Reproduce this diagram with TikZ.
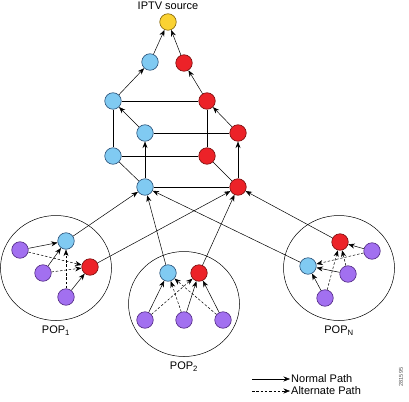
\documentclass[tikz,border=0pt]{standalone}
\usepackage{fontspec}
\setmainfont{Liberation Sans}
\usepackage{xcolor}
\usetikzlibrary{arrows.meta, positioning, shapes.geometric}

\definecolor{skyfill}{RGB}{128,202,242}
\definecolor{skyline}{RGB}{40,80,120}
\definecolor{redfill}{RGB}{236,34,40}
\definecolor{redline}{RGB}{120,10,10}
\definecolor{goldfill}{RGB}{250,210,50}
\definecolor{goldline}{RGB}{130,100,10}
\definecolor{violetfill}{RGB}{162,112,240}
\definecolor{violetline}{RGB}{80,40,130}

\begin{document}
\begin{tikzpicture}[x=1pt, y=-1pt,
        font=\fontsize{11}{13}\selectfont,
        router/.style={circle, draw, minimum size=16.5pt, inner sep=0pt, line width=0.6pt},
        srcnode/.style={router, fill=goldfill, draw=goldline},
        bluenode/.style={router, fill=skyfill, draw=skyline},
        rednode/.style={router, fill=redfill, draw=redline},
        hostnode/.style={router, fill=violetfill, draw=violetline},
        pop/.style={ellipse, draw, minimum width=111pt, minimum height=105pt, line width=0.5pt},
        link/.style={line width=0.5pt},
        normal/.style={link, -{Stealth[length=6.5pt, width=5pt]}},
        alternate/.style={normal, dash pattern=on 2.5pt off 1.8pt}]
        \useasboundingbox (0,0) rectangle (409,401);

        % Add the POP areas
        \node[pop] (pop1) at (56,268) {};
        \node[pop] (pop2) at (184,304) {};
        \node[pop] (popN) at (339,268) {};
        \node[below=2pt of pop1] (l1) {POP\textsubscript{1}};
        \node[below=2pt of pop2] (l2) {POP\textsubscript{2}};
        \node[below=2pt of popN] (lN) {POP\textsubscript{N}};

        % Add the core routers
        \node[srcnode] (src) at (168,22) {};
        \node[above=0pt of src] (srclabel) {IPTV source};
        \node[bluenode] (b1) at (150,62) {};
        \node[rednode]  (r1) at (184,63) {};
        \node[bluenode] (b2) at (113,101) {};
        \node[rednode]  (r2) at (207,101) {};
        \node[bluenode] (b3) at (145,133) {};
        \node[rednode]  (r3) at (238,133) {};
        \node[bluenode] (b4) at (113,156) {};
        \node[rednode]  (r4) at (207,156) {};
        \node[bluenode] (b5) at (145,187) {};
        \node[rednode]  (r5) at (238,187) {};

        % Add the edge routers and hosts
        \node[bluenode] (e1b) at (66,241) {};
        \node[rednode]  (e1r) at (90,267) {};
        \node[hostnode] (h1a) at (20,250) {};
        \node[hostnode] (h1b) at (43,273) {};
        \node[hostnode] (h1c) at (66,297) {};

        \node[bluenode] (e2b) at (168,273) {};
        \node[rednode]  (e2r) at (199,273) {};
        \node[hostnode] (h2a) at (145,320) {};
        \node[hostnode] (h2b) at (184,320) {};
        \node[hostnode] (h2c) at (223,320) {};

        \node[rednode]  (eNr) at (340,242) {};
        \node[bluenode] (eNb) at (308,266) {};
        \node[hostnode] (hNa) at (372,251) {};
        \node[hostnode] (hNb) at (348,274) {};
        \node[hostnode] (hNc) at (325,298) {};

        % Connect the core
        \draw[link]
            (b2) edge (r2)
            (b3) edge (r3)
            (b4) edge (r4)
            (b5) edge (r5)
            (b2) edge (b4)
            (r2) edge (r4)
            (b4) edge (b5)
            (r4) edge (r5);
        \draw[normal]
            (b1) edge (src)
            (r1) edge (src)
            (b2) edge (b1)
            (r2) edge (r1)
            (b3) edge (b2)
            (r3) edge (r2)
            (b5) edge (b3)
            (r5) edge (r3);

        % Connect the POPs with the core
        \draw[normal]
            (e1b) edge (b5)
            (e2b) edge (b5)
            (eNb) edge (b5)
            (e1r) edge (r5)
            (e2r) edge (r5)
            (eNr) edge (r5);

        % Normal paths inside the POPs
        \draw[normal]
            (h1a) edge (e1b)
            (h1b) edge (e1b)
            (h1c) edge (e1r)
            (h2a) edge (e2b)
            (h2b) edge (e2r)
            (h2c) edge (e2r)
            (hNa) edge (eNr)
            (hNb) edge (eNb)
            (hNc) edge (eNb);

        % Alternate paths inside the POPs
        \draw[alternate]
            (h1a) edge (e1r)
            (h1b) edge (e1r)
            (h1c) edge (e1b)
            (h2a) edge (e2r)
            (h2b) edge (e2b)
            (h2c) edge (e2b)
            (hNa) edge (eNb)
            (hNb) edge (eNr)
            (hNc) edge (eNr);

        % Legend
        \coordinate (ln) at (252,379);
        \coordinate (la) at (252,391);
        \node[anchor=west, inner sep=1pt] (tn) at (290,379) {Normal Path};
        \node[anchor=west, inner sep=1pt] (ta) at (290,391) {Alternate Path};
        \draw[normal] (ln) -- (tn.west);
        \draw[alternate] (la) -- (ta.west);
        \node[rotate=90, font=\fontsize{5.5}{6}\selectfont, text=black!70] (num) at (401,377) {281595};
\end{tikzpicture}
\end{document}
